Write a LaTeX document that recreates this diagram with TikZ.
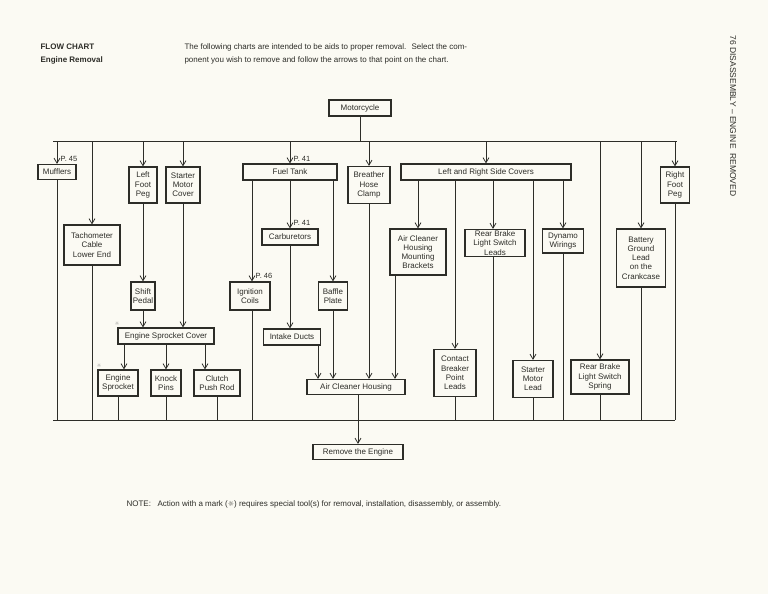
\documentclass[tikz,border=0pt]{standalone}
\usepackage{fontspec}
\setmainfont{Liberation Sans}
\newfontfamily\symfont{DejaVu Sans}
\usetikzlibrary{arrows.meta,positioning}
\definecolor{paper}{RGB}{251,250,243}
\definecolor{ink}{RGB}{45,45,40}
\tikzset{box/.style={draw=ink,very thick,align=center,inner sep=1pt,font=\fontsize{8}{9.2}\selectfont,text=ink},
         line/.style={draw=ink,thick},
         arr/.style={line,-{Straight Barb[length=5pt,width=6pt]}},
         page/.style={font=\fontsize{7.5}{8}\selectfont,text=ink,anchor=west}}

\begin{document}
\begin{tikzpicture}[x=1pt,y=-1pt]
\fill[paper] (0,0) rectangle (768,594);
\useasboundingbox (0,0) rectangle (768,594);

% header
\node[anchor=west,font=\bfseries\fontsize{8}{13}\selectfont,text=ink,align=left] at (37,54) {FLOW CHART\\Engine Removal};
\node[anchor=west,font=\fontsize{8}{13}\selectfont,text=ink,align=left] at (181,54) {The following charts are intended to be aids to proper removal. \ Select the com-\\ponent you wish to remove and follow the arrows to that point on the chart.};
\node[rotate=-90,anchor=west,font=\fontsize{8.5}{9}\selectfont,text=ink] at (733,32) {76 DISASSEMBLY -- ENGINE \ REMOVED};

% top and bottom lines
\coordinate (tl) at (53,141);
\coordinate (tr) at (677,141);
\coordinate (bl) at (53,420);
\coordinate (br) at (675,420);
\draw[line] (tl) -- (tr);
\draw[line] (bl) -- (br);

\node[box,minimum width=62pt,minimum height=16pt] (moto) at (360,108) {Motorcycle};
\node[box,minimum width=90pt,minimum height=15pt] (remove) at (358,452) {Remove the Engine};
\draw[line] (moto.south) -- (moto.south |- tl);

% left branch
\node[box,minimum width=38pt,minimum height=15pt] (muff) at (57,172) {Mufflers};
\node[box,minimum width=56pt,minimum height=40pt] (tacho) at (92,245) {Tachometer\\Cable\\Lower End};
\node[box,minimum width=28pt,minimum height=36pt] (lpeg) at (143,185) {Left\\Foot\\Peg};
\node[box,minimum width=34pt,minimum height=36pt] (smc) at (183,185) {Starter\\Motor\\Cover};
\node[box,minimum width=24pt,minimum height=28pt] (shift) at (143,296) {Shift\\Pedal};
\node[box,minimum width=96pt,minimum height=16pt] (esc) at (166,336) {Engine Sprocket Cover};
\node[box,minimum width=40pt,minimum height=26pt] (esp) at (118,383) {Engine\\Sprocket};
\node[box,minimum width=30pt,minimum height=26pt] (knock) at (166,383) {Knock\\Pins};
\node[box,minimum width=46pt,minimum height=26pt] (clutch) at (217,383) {Clutch\\Push Rod};

\draw[arr] (muff.north |- tl) -- (muff.north) node[page,pos=0.8] {P. 45};
\draw[line] (muff.south) -- (muff.south |- bl);
\draw[arr] (tacho.north |- tl) -- (tacho.north);
\draw[line] (tacho.south) -- (tacho.south |- bl);
\draw[arr] (lpeg.north |- tl) -- (lpeg.north);
\draw[arr] (lpeg.south) -- (shift.north);
\draw[arr] (smc.north |- tl) -- (smc.north);
\draw[arr] (smc.south) -- (esc.north -| smc.south);
\draw[arr] (shift.south) -- (esc.north -| shift.south);
\draw[arr] (esc.south -| 124,0) -- (esp.north -| 124,0);
\draw[arr] (esc.south -| knock.north) -- (knock.north);
\draw[arr] (esc.south -| 205,0) -- (clutch.north -| 205,0);
\draw[line] (esp.south) -- (esp.south |- bl);
\draw[line] (knock.south) -- (knock.south |- bl);
\draw[line] (clutch.south) -- (clutch.south |- bl);
\node[font=\symfont\fontsize{5}{5}\selectfont,text=gray] (m1) at (117,324) {☼};
\node[font=\symfont\fontsize{5}{5}\selectfont,text=gray] (m2) at (99,366) {☼};

% middle branch
\node[box,minimum width=94pt,minimum height=16pt] (fuel) at (290,172) {Fuel Tank};
\node[box,minimum width=56pt,minimum height=16pt] (carb) at (290,237) {Carburetors};
\node[box,minimum width=40pt,minimum height=28pt] (ign) at (250,296) {Ignition\\Coils};
\node[box,minimum width=29pt,minimum height=28pt] (baffle) at (333,296) {Baffle\\Plate};
\node[box,minimum width=57pt,minimum height=16pt] (intake) at (292,337) {Intake Ducts};
\node[box,minimum width=42pt,minimum height=37pt] (breath) at (369,185) {Breather\\Hose\\Clamp};
\node[box,minimum width=98pt,minimum height=15pt] (ach) at (356,387) {Air Cleaner Housing};

\draw[arr] (fuel.north |- tl) -- (fuel.north) node[page,pos=0.8] {P. 41};
\draw[arr] (fuel.south -| 252,0) -- (ign.north -| 252,0) node[page,pos=0.95] {P. 46};
\draw[line] (ign.south -| 252,0) -- (bl -| 252,0);
\draw[arr] (fuel.south) -- (carb.north) node[page,pos=0.88] {P. 41};
\draw[arr] (carb.south) -- (intake.north -| carb.south);
\draw[arr] (fuel.south -| baffle.north) -- (baffle.north);
\draw[arr] (intake.south -| 318,0) -- (ach.north -| 318,0);
\draw[arr] (baffle.south) -- (ach.north -| baffle.south);
\draw[arr] (breath.north |- tl) -- (breath.north);
\draw[arr] (breath.south) -- (ach.north -| breath.south);
\draw[arr] (ach.south -| remove.north) -- (remove.north);

% right branch
\node[box,minimum width=170pt,minimum height=16pt] (covers) at (486,172) {Left and Right Side Covers};
\node[box,minimum width=56pt,minimum height=46pt] (acmb) at (418,252) {Air Cleaner\\Housing\\Mounting\\Brackets};
\node[box,minimum width=60pt,minimum height=27pt] (rbl) at (495,243) {Rear Brake\\Light Switch\\Leads};
\node[box,minimum width=41pt,minimum height=24pt] (dyn) at (563,241) {Dynamo\\Wirings};
\node[box,minimum width=42pt,minimum height=47pt] (cbp) at (455,373) {Contact\\Breaker\\Point\\Leads};
\node[box,minimum width=40pt,minimum height=37pt] (sml) at (533,379) {Starter\\Motor\\Lead};
\node[box,minimum width=58pt,minimum height=34pt] (rbs) at (600,377) {Rear Brake\\Light Switch\\Spring};
\node[box,minimum width=49pt,minimum height=58pt] (batt) at (641,258) {Battery\\Ground\\Lead\\on the\\Crankcase};
\node[box,minimum width=29pt,minimum height=36pt] (rpeg) at (675,185) {Right\\Foot\\Peg};

\draw[arr] (covers.north |- tl) -- (covers.north);
\draw[arr] (covers.south -| acmb.north) -- (acmb.north);
\draw[arr] (acmb.south -| 395,0) -- (ach.north -| 395,0);
\draw[arr] (covers.south -| cbp.north) -- (cbp.north);
\draw[arr] (covers.south -| 493,0) -- (rbl.north -| 493,0);
\draw[arr] (covers.south -| sml.north) -- (sml.north);
\draw[arr] (covers.south -| dyn.north) -- (dyn.north);
\draw[line] (cbp.south) -- (cbp.south |- bl);
\draw[line] (rbl.south -| 493,0) -- (bl -| 493,0);
\draw[line] (sml.south) -- (sml.south |- bl);
\draw[line] (dyn.south) -- (dyn.south |- bl);
\draw[arr] (rbs.north |- tl) -- (rbs.north);
\draw[line] (rbs.south) -- (rbs.south |- bl);
\draw[arr] (batt.north |- tl) -- (batt.north);
\draw[line] (batt.south) -- (batt.south |- bl);
\draw[arr] (rpeg.north |- tl) -- (rpeg.north);
\draw[line] (rpeg.south) -- (rpeg.south |- br);

% note
\node[anchor=west,font=\fontsize{8}{9}\selectfont,text=ink] (note) at (123,504) {NOTE: \ \ Action with a mark ({\symfont\fontsize{7}{7}\selectfont ☼}) requires special tool(s) for removal, installation, disassembly, or assembly.};
\end{tikzpicture}
\end{document}
